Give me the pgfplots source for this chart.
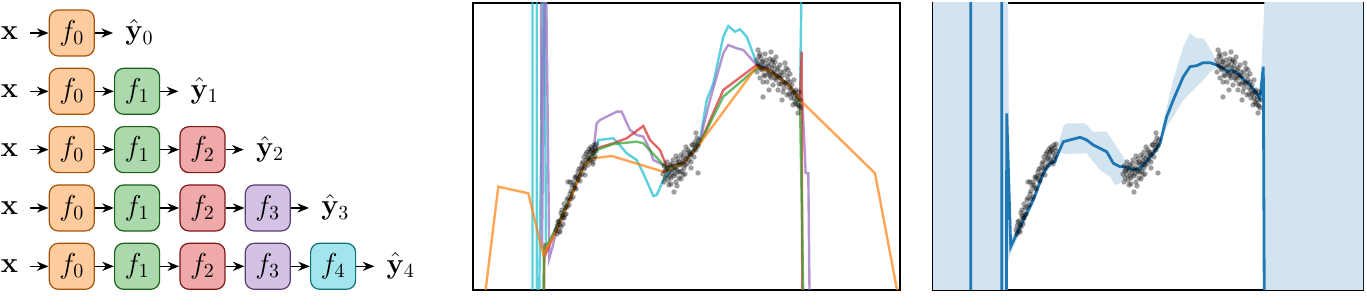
\documentclass[border=0pt]{standalone}
\usepackage{pgfplots}
\pgfplotsset{compat=1.18}
\usepackage{pgfplotstable}
\usepackage{amsmath}
\usetikzlibrary{arrows.meta}
\definecolor{tabblue}{HTML}{1F77B4}
\definecolor{taborange}{HTML}{FF7F0E}
\definecolor{tabgreen}{HTML}{2CA02C}
\definecolor{tabred}{HTML}{D62728}
\definecolor{tabpurple}{HTML}{9467BD}
\definecolor{tabcyan}{HTML}{17BECF}
\colorlet{fc0}{taborange!40}\colorlet{dc0}{taborange!65!black}
\colorlet{fc1}{tabgreen!40}\colorlet{dc1}{tabgreen!60!black}
\colorlet{fc2}{tabred!40}\colorlet{dc2}{tabred!60!black}
\colorlet{fc3}{tabpurple!40}\colorlet{dc3}{tabpurple!60!black}
\colorlet{fc4}{tabcyan!40}\colorlet{dc4}{tabcyan!60!black}

\pgfplotstableread{
x y
83 60
84 56
85 68
86 59
86 69
87 65
88 77
88 63
89 74
90 72
91 86
91 72
92 82
93 76
94 90
94 83
95 108
96 85
97 96
97 108
98 91
99 104
100 93
101 105
102 113
102 102
103 101
104 114
105 110
106 121
107 114
108 122
109 116
110 128
111 133
112 123
113 130
114 138
115 125
116 134
117 130
118 139
119 128
120 137
121 145
122 134
123 139
118 143
116 141
112 115
120 126
84 64
87 58
89 80
92 75
95 92
98 99
100 108
103 112
105 118
107 109
109 126
111 121
113 136
115 132
117 138
119 141
121 131
122 142
123 146
90 66
190 116
191 124
192 112
193 120
194 128
195 110
196 119
197 125
198 106
199 117
200 130
201 98
201 114
202 122
203 108
204 127
205 118
205 131
206 112
207 125
208 135
209 119
210 129
211 122
211 138
212 116
213 131
214 126
215 140
216 130
217 136
218 128
219 145
220 138
221 133
222 148
223 140
224 152
225 117
225 144
226 150
223 157
218 122
196 105
203 134
208 111
213 143
199 126
194 115
191 108
192 119
195 122
197 114
200 121
202 116
204 120
206 128
207 118
209 127
210 133
212 125
214 134
216 138
218 135
220 145
222 142
224 146
198 112
204 104
210 115
284 230
284 218
285 240
286 224
287 212
288 232
289 220
290 193
290 228
291 215
292 236
293 222
294 208
295 226
296 216
297 231
298 238
298 212
299 222
300 205
301 218
302 228
303 210
304 220
305 200
306 215
307 225
308 206
309 214
310 198
311 218
312 207
313 222
314 195
315 210
316 202
317 216
318 192
319 205
320 197
321 210
322 188
323 200
324 194
325 185
325 177
326 198
327 190
327 182
303 233
312 227
296 200
287 236
320 185
309 190
285 226
286 234
288 222
289 228
291 224
292 214
293 230
295 218
296 224
297 214
299 228
300 216
301 224
302 212
304 214
305 222
306 206
307 212
308 218
310 208
311 202
313 206
314 214
316 196
317 208
318 200
319 196
321 192
322 198
323 186
324 190
326 184
315 220
300 230
290 208
}\pts

\pgfplotsset{panel/.style={scale only axis, height=143.5pt, ymin=0, ymax=287,
  xtick=\empty, ytick=\empty, axis line style={line width=1.3pt}, anchor=south west},
  dots/.style={only marks, mark=*, mark size=1.35pt, mark options={fill=black, draw=black, fill opacity=0.38, draw opacity=0, line width=0pt}}}

\begin{document}
\begin{tikzpicture}
\path[use as bounding box] (0,0) rectangle (683.5pt,154pt);
\begin{scope}[x=0.5pt,y=0.5pt,
  arr/.style={line width=0.65pt,-{Stealth[length=5.8pt,width=4.6pt]}},
  blk/.style={rounded corners=4.5pt, minimum width=22.5pt, minimum height=23pt, line width=0.6pt, inner sep=0pt},
  font=\Large]
\foreach \i in {0,...,4} {
  \pgfmathsetmacro\yy{308-(33+58.33*\i)}
  \node[anchor=base] at (9.5,\yy-6.5) {$\mathbf{x}$};
  \draw[arr] (30,\yy) -- (48.5,\yy);
  \foreach \j in {0,...,\i} {
    \node[blk, fill=fc\j, draw=dc\j] at ({71.8+65.33*\j},\yy) {$f_{\j}$};
    \ifnum\j<\i
      \draw[arr] ({95+65.33*\j},\yy) -- ({113.8+65.33*\j},\yy);
    \fi
  }
  \draw[arr] ({95+65.33*\i},\yy) -- ({113+65.33*\i},\yy);
  \node[anchor=base west, inner sep=0pt] at ({125+65.33*\i},\yy-7) {$\hat{\mathbf{y}}_{\i}$};
}
\end{scope}

\begin{axis}[panel, at={(236.5pt,9pt)}, width=213.5pt, xmin=0, xmax=427]
\addplot[dots] table {\pts};
\addplot[tabcyan, opacity=0.7, line width=1.2pt] coordinates {(59.5,-20)(59.5,320)(63.7,320)(63.7,-20)(66,-20)(70.5,320)(71.5,320)(73,40)(83.7,63)(97,91)(110.3,123.3)(123.7,140)(125.3,150)(140.3,151.7)(143.7,148.3)(153.7,136.7)(163.7,130)(170.3,116.7)(180.3,94)(183.7,95)(190.3,110)(197,118.3)(210.3,126.7)(227,150)(233.7,190)(240.3,206.7)(250.3,253.3)(255.3,264)(262,258.3)(267,260.7)(273.7,253.3)(283.7,226.7)(297,220)(317,204)(327,190)(328.7,320)};
\addplot[tabpurple, opacity=0.7, line width=1.2pt] coordinates {(67.8,320)(69,42)(71.8,320)(73,320)(76.3,32)(80,45)(83.7,61)(97,91)(110.3,123.3)(120,135)(123.7,166.7)(127,170)(143.7,178.3)(148.7,178.3)(157,160)(163.7,155)(170.3,153.3)(177,140)(180.3,130)(193.7,123.3)(210.3,126.7)(227,146.7)(230.3,163.3)(237,190)(250.3,236.7)(255.3,245)(263.7,241.7)(270.3,240)(283.7,225)(297,220)(317,204)(327,190)(329.3,190)(332.7,116.7)(335.3,116.7)(336.7,-20)};
\addplot[tabred, opacity=0.7, line width=1.2pt] coordinates {(70.8,-20)(71.5,47)(73,37)(77,46)(83.7,62)(97,91)(110.3,123.3)(123.7,141.7)(140.3,146.7)(153.7,151.7)(170.3,164)(177,150)(187,140)(193.7,123.3)(210.3,126.7)(227,146.7)(250.3,200)(270.3,215)(283.7,225)(297,220)(317,204)(327,190)(328.7,238.3)(329.3,-20)};
\addplot[tabgreen, opacity=0.7, line width=1.2pt] coordinates {(70.3,-20)(71,43.3)(76,48)(83.7,63.3)(97,92)(110.3,123.3)(123.7,140)(140.3,146)(163.7,148.3)(170.3,146.7)(193.7,121.7)(210.3,126.7)(227,146.7)(250.3,193.3)(283.7,221.7)(297,219)(317,204)(327,188.3)(330.5,-20)};
\addplot[taborange, opacity=0.7, line width=1.2pt] coordinates {(12,-5)(25.3,103.3)(55.3,96.7)(70.3,35)(83.7,60)(97,90)(110.3,123.3)(120.3,131.7)(138.7,134)(190.3,118.3)(197,120)(210.3,126.7)(227,146.7)(283.7,223.3)(290.3,220)(297,218.3)(317,203.3)(328.7,188.3)(402,116.7)(425,-5)};
\end{axis}

\begin{axis}[panel, at={(466.5pt,9pt)}, width=215pt, xmin=0, xmax=430]
\addplot[fill=tabblue!20, draw=none] coordinates {(-10,300)(75,300)(76.5,60)(77.7,50)(87,70)(100.3,96)(110.3,122)(117,131)(123.7,138)(127,152)(130.3,163.3)(133.7,166.7)(152,166.7)(160.3,158.3)(173.7,158.3)(183.7,143.3)(192,130)(200.3,123)(207,125)(220.3,139)(227,151)(233.7,183.3)(240.3,210)(250.3,243.3)(257,256.7)(263.7,251.7)(270.3,251.7)(277,241.7)(283.7,228)(293.7,221)(303.7,219.5)(317,207.5)(327,194)(330.3,263)(332,300)(440,300)(440,-10)(331.5,-10)(330.3,215)(327,189)(317,202.5)(303.7,215)(293.7,216)(283.7,222)(277,218)(270.3,210)(260.3,200)(250.3,190)(240.3,173.3)(233.7,163.3)(227,142.5)(220.3,134)(207,118.5)(200.3,117)(193.7,119)(187,106.7)(182,105)(177,113.3)(167,120)(153.7,136.7)(133.7,136)(127,137)(123.7,129)(117,123)(110.3,113)(100.3,86)(87,58)(77.7,36)(75.3,30)(73.5,-10)(-10,-10)} -- cycle;
\addplot[dots] table {\pts};
\addplot[tabblue, line width=1.4pt] coordinates {(37.7,-20)(37.7,320)(68.7,320)(68.7,-20)(73.5,-20)(73.7,176.7)(77.7,43.3)(87,63.3)(100.3,90)(110.3,116.7)(117,126.7)(122,128.3)(123.7,133.3)(130.3,148.3)(147,152.7)(153.7,150)(160.3,145)(173.7,138.3)(180.3,126.7)(187,123.3)(193.7,123.3)(200.3,120)(207,121.7)(210.3,125)(220.3,136.7)(227,146.7)(233.7,173.3)(240.3,190)(250.3,213.3)(257,223.3)(263.7,224.3)(270.3,227.3)(277,227.3)(283.7,225)(290.3,221.7)(293.7,218.3)(298.7,220)(303.7,217.3)(308.7,212.7)(317,205)(323.7,196.7)(327,191.7)(330.3,223.3)(331.3,-20)};
\end{axis}
\end{tikzpicture}
\end{document}
